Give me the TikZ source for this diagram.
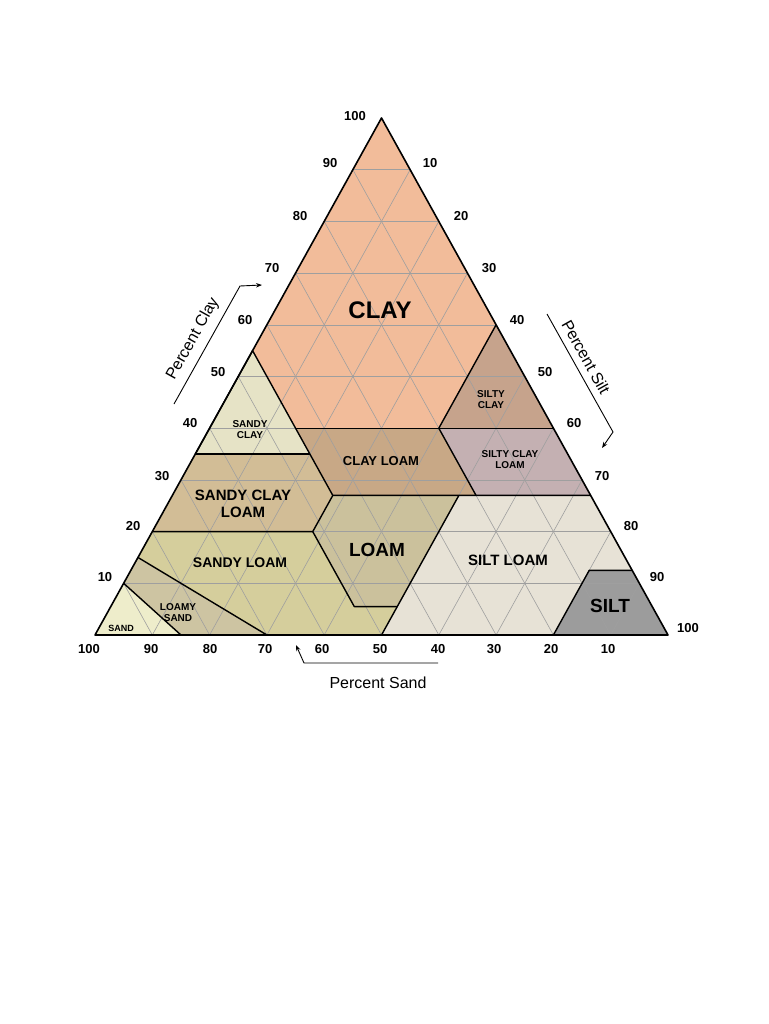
\documentclass[tikz,border=0pt]{standalone}
\usepackage{fontspec}
\setmainfont{Liberation Sans}
\usetikzlibrary{arrows.meta}
\newcommand\tp[2]{({95+5.73*(100-(#1)-0.5*(#2))},{635-5.17*(#2)})}
\definecolor{cclay}{HTML}{F2BC9A}
\definecolor{csiltyclay}{HTML}{C6A38C}
\definecolor{csclm}{HTML}{C4B0B2}
\definecolor{cclm}{HTML}{C8A886}
\definecolor{csandyclay}{HTML}{E6E3C6}
\definecolor{cscl}{HTML}{D2BD96}
\definecolor{cloam}{HTML}{CBC19C}
\definecolor{csl}{HTML}{D5CE9C}
\definecolor{cls}{HTML}{CDC4A2}
\definecolor{csand}{HTML}{EEEDCB}
\definecolor{csiltloam}{HTML}{E7E2D6}
\definecolor{csilt}{HTML}{9C9C9C}
\tikzset{region/.style={draw=black,line width=1.4pt,line join=round},
 tick/.style={font=\bfseries\fontsize{13}{13}\selectfont},
 lab/.style={font=\bfseries\fontsize{13}{14}\selectfont,align=center},
 small/.style={font=\bfseries\fontsize{10}{11}\selectfont,align=center},
 axt/.style={font=\fontsize{16}{16}\selectfont,inner sep=0pt}}
\begin{document}
\begin{tikzpicture}[x=1pt,y=-1pt]
\useasboundingbox (0,0) rectangle (768,1024);
\fill[white] (0,0) rectangle (768,1024);
% regions
\fill[cclay] \tp{45}{55} -- \tp{45}{40} -- \tp{20}{40} -- \tp{0}{60} -- \tp{0}{100} -- cycle;
\fill[csiltyclay] \tp{20}{40} -- \tp{0}{60} -- \tp{0}{40} -- cycle;
\fill[csclm] \tp{20}{27} -- \tp{20}{40} -- \tp{0}{40} -- \tp{0}{27} -- cycle;
\fill[cclm] \tp{45}{27} -- \tp{45}{40} -- \tp{20}{40} -- \tp{20}{27} -- cycle;
\fill[csandyclay] \tp{65}{35} -- \tp{45}{55} -- \tp{45}{35} -- cycle;
\fill[cscl] \tp{80}{20} -- \tp{65}{35} -- \tp{45}{35} -- \tp{45}{27} -- \tp{52}{20} -- cycle;
\fill[cloam] \tp{52}{20} -- \tp{45}{27} -- \tp{23}{27} -- \tp{44.5}{5.5} -- \tp{52}{5.5} -- cycle;
\fill[csl] \tp{85}{15} -- \tp{80}{20} -- \tp{52}{20} -- \tp{52}{5.5} -- \tp{44.5}{5.5} -- \tp{50}{0} -- \tp{70}{0} -- cycle;
\fill[cls] \tp{85}{15} -- \tp{70}{0} -- \tp{85}{0} -- \tp{90}{10} -- cycle;
\fill[csand] \tp{90}{10} -- \tp{85}{0} -- \tp{100}{0} -- cycle;
\fill[csiltloam] \tp{23}{27} -- \tp{0}{27} -- \tp{0}{12.5} -- \tp{7.5}{12.5} -- \tp{20}{0} -- \tp{50}{0} -- \tp{44.5}{5.5} -- cycle;
\fill[csilt] \tp{20}{0} -- \tp{0}{0} -- \tp{0}{12.5} -- \tp{7.5}{12.5} -- cycle;
% grid
\foreach \k in {10,20,...,90}{
 \draw[gray!75,line width=0.6pt] \tp{100-\k}{\k} -- \tp{0}{\k};
 \draw[gray!75,line width=0.6pt] \tp{\k}{0} -- \tp{\k}{100-\k};
 \draw[gray!75,line width=0.6pt] \tp{100-\k}{0} -- \tp{0}{100-\k};
}
% borders
\draw[region] \tp{65}{35} -- \tp{45}{55} -- \tp{45}{27};
\draw[region] \tp{45}{40} -- \tp{0}{40};
\draw[region] \tp{20}{40} -- \tp{0}{60};
\draw[region] \tp{20}{40} -- \tp{20}{27};
\draw[region] \tp{65}{35} -- \tp{45}{35};
\draw[region] \tp{80}{20} -- \tp{52}{20} -- \tp{45}{27} -- \tp{0}{27};
\draw[region] \tp{52}{20} -- \tp{52}{5.5} -- \tp{44.5}{5.5};
\draw[region] \tp{50}{0} -- \tp{23}{27};
\draw[region] \tp{85}{15} -- \tp{70}{0};
\draw[region] \tp{90}{10} -- \tp{85}{0};
\draw[region] \tp{0}{12.5} -- \tp{7.5}{12.5} -- \tp{20}{0};
\draw[line width=1.6pt,line join=round] \tp{100}{0} -- \tp{0}{0} -- \tp{0}{100} -- cycle;
% ticks
\foreach \v/\x/\y in {100/355/116,90/330/163,80/300/216,70/272/268,60/245/320,50/218/372,40/190/423,30/162/476,20/133/526,10/105/577}
 \node[tick] (cl\v) at (\x,\y) {\v};
\foreach \v/\x/\y in {10/430/163,20/461/216,30/489/268,40/517/320,50/545/372,60/574/423,70/602/476,80/631/526,90/657/577,100/688/628}
 \node[tick] (si\v) at (\x,\y) {\v};
\foreach \v/\x in {100/89,90/151,80/210,70/265,60/322,50/380,40/438,30/494,20/551,10/608}
 \node[tick] (sa\v) at (\x,649) {\v};
% axis titles
\node[axt,rotate=60.8] (pc) at (193,339) {Percent Clay};
\coordinate (pc1) at (174,404); \coordinate (pc2) at (240,286); \coordinate (pc3) at (262,285);
\draw[line width=0.9pt,-{Stealth[length=6pt]}] (pc1) -- (pc2) -- (pc3);
\node[axt,rotate=-60.8] (ps) at (586,357) {Percent Silt};
\coordinate (ps1) at (547,314); \coordinate (ps2) at (613,432); \coordinate (ps3) at (602,448);
\draw[line width=0.9pt,-{Stealth[length=6pt]}] (ps1) -- (ps2) -- (ps3);
\node[axt] (pd) at (378,683) {Percent Sand};
\coordinate (pd1) at (438,663); \coordinate (pd2) at (304,663); \coordinate (pd3) at (296,645);
\draw[line width=0.9pt,-{Stealth[length=6pt]}] (pd1) -- (pd2) -- (pd3);
% region labels
\node[font=\bfseries\fontsize{24}{24}\selectfont] (lclay) at (380,310) {CLAY};
\node[small] (lsc) at (491,400) {SILTY\\CLAY};
\node[small] (lsa) at (250,430) {SANDY\\CLAY};
\node[lab] (lcl) at (381,461) {CLAY LOAM};
\node[small] (lscl) at (510,460) {SILTY CLAY\\LOAM};
\node[lab,font=\bfseries\fontsize{15}{17}\selectfont] (lsacl) at (243,504) {SANDY CLAY\\LOAM};
\node[font=\bfseries\fontsize{19}{19}\selectfont] (lloam) at (377,550) {LOAM};
\node[lab,font=\bfseries\fontsize{14}{14}\selectfont] (lsl) at (240,563) {SANDY LOAM};
\node[lab,font=\bfseries\fontsize{15}{15}\selectfont] (lsil) at (508,560) {SILT LOAM};
\node[font=\bfseries\fontsize{19}{19}\selectfont] (lsilt) at (610,606) {SILT};
\node[small] (lls) at (178,613) {LOAMY\\SAND};
\node[small,font=\bfseries\fontsize{9}{9}\selectfont] (lsand) at (121,628) {SAND};
\end{tikzpicture}
\end{document}
